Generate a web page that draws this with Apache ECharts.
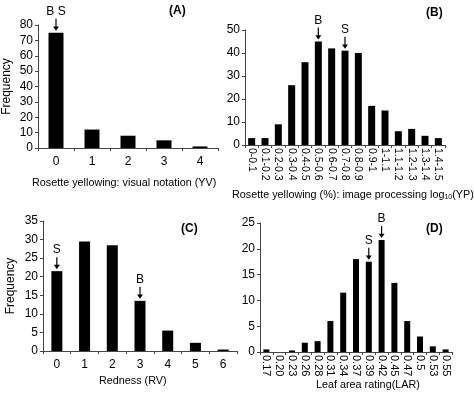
<!DOCTYPE html>
<html><head><meta charset="utf-8">
<script src="https://cdn.jsdelivr.net/npm/echarts@6/dist/echarts.min.js"></script>
<style>html,body{margin:0;padding:0;background:#fff}#c{width:474px;height:393px}</style>
</head><body><div id="c"></div>
<script>
// Panel A
const catsA = ['0','1','2','3','4'];
const valsA = [75, 12, 8, 5, 1];
const annA = [{cat:0, text:'B S'}];
// Panel B
const catsB = ['0-0.1','0.1-0.2','0.2-0.3','0.3-0.4','0.4-0.5','0.5-0.6','0.6-0.7','0.7-0.8','0.8-0.9','0.9-1','1-1.1','1.1-1.2','1.2-1.3','1.3-1.4','1.4-1.5'];
const valsB = [3, 3, 9, 26, 36, 45, 42, 41, 40, 17, 15, 6, 7, 4, 3];
const annB = [{cat:5, text:'B'}, {cat:7, text:'S'}];
// Panel C
const catsC = ['0','1','2','3','4','5','6'];
const valsC = [21.5, 29.5, 28.5, 13.5, 5.5, 2.2, 0.4];
const annC = [{cat:0, text:'S'}, {cat:3, text:'B'}];
// Panel D
const catsD = ['0.17','0.20','0.23','0.26','0.28','0.31','0.34','0.37','0.39','0.42','0.45','0.47','0.5','0.53','0.55'];
const valsD = [0.5, 0, 0.3, 1.8, 2.1, 6, 11.5, 18, 17.5, 21.7, 13.4, 6, 3, 1.1, 0.5];
const annD = [{cat:8, text:'S'}, {cat:9, text:'B'}];
// Y ticks
const yTicksA = {min:0, max:80, interval:10};
const yTicksB = {min:0, max:50, interval:10};
const yTicksC = {min:0, max:35, interval:5};
const yTicksD = {min:0, max:25, interval:5};
// Texts
const panelTitles = ['(A)', '(B)', '(C)', '(D)'];
const xNames = [
  'Rosette yellowing: visual notation (YV)',
  'Rosette yellowing (%): image processing log{sub|10}(YP)',
  'Redness (RV)',
  'Leaf area rating(LAR)'
];
const yName = 'Frequency';

const FONT = '"Liberation Sans", Arial, sans-serif';
const arrow = 'path://M2,0 L3,0 L3,9 L5,9 L2.5,14 L0,9 L2,9 Z';

function mk(ann, vals, cats){
  return {
    symbol: arrow, symbolSize: [6, 12], symbolOffset: [0, -8],
    itemStyle: {color: '#000'},
    label: {show: true, position: 'top', distance: 1, color: '#000', fontSize: 12, fontFamily: FONT,
      formatter: p => p.name},
    data: ann.map(a => ({name: a.text, coord: [cats[a.cat], vals[a.cat]]}))
  };
}
function xAx(gi, cats, opt){
  return Object.assign({
    type: 'category', gridIndex: gi, data: cats,
    axisLine: {lineStyle: {color: '#444', width: 1}},
    axisTick: {show: true, length: 3, lineStyle: {color: '#444'}},
    axisLabel: {color: '#000', fontSize: 12, fontFamily: FONT, margin: 8}
  }, opt || {});
}
function yAx(gi, t, name, gap){
  return {
    type: 'value', gridIndex: gi, min: t.min, max: t.max, interval: t.interval,
    axisLine: {show: true, lineStyle: {color: '#444', width: 1}},
    axisTick: {show: true, length: 3, lineStyle: {color: '#444'}},
    splitLine: {show: false},
    axisLabel: {color: '#000', fontSize: 12, fontFamily: FONT, margin: 5},
    name: name || '', nameLocation: 'middle', nameGap: gap || 24, nameRotate: 90,
    nameTextStyle: {color: '#000', fontSize: 12, fontFamily: FONT}
  };
}
function bar(gi, vals, w, ann, cats){
  return {type: 'bar', xAxisIndex: gi, yAxisIndex: gi, data: vals, barWidth: w,
    itemStyle: {color: '#000'}, silent: true, markPoint: mk(ann, vals, cats)};
}
const ttl = {fontSize: 12, fontWeight: 'bold', color: '#000', fontFamily: FONT};
const nm = {fontSize: 10.8, fontWeight: 'normal', color: '#000', fontFamily: FONT,
  rich: {sub: {fontSize: 7, fontFamily: FONT, color: '#000', verticalAlign: 'bottom', padding: [5, 0, 0, 0]}}};

const rotLab = {color: '#000', fontSize: 10.5, fontFamily: FONT, rotate: -90, margin: 3, interval: 0};

const chart = echarts.init(document.getElementById('c'), null, {renderer: 'canvas'});
chart.setOption({
  animation: false,
  backgroundColor: '#fff',
  textStyle: {fontFamily: FONT},
  title: [
    {text: panelTitles[0], left: 164, top: 0, textStyle: ttl},
    {text: panelTitles[1], left: 421, top: 2, textStyle: ttl},
    {text: panelTitles[2], left: 176, top: 218, textStyle: ttl},
    {text: panelTitles[3], left: 421, top: 218, textStyle: ttl},
    {text: xNames[0], left: 32, top: 178, padding: 0, textStyle: nm},
    {text: xNames[1], left: 232, top: 189, padding: 0, textStyle: nm},
    {text: xNames[2], left: 99, top: 376, padding: 0, textStyle: nm},
    {text: xNames[3], left: 316, top: 380, padding: 0, textStyle: nm}
  ],
  grid: [
    {left: 38, top: 25, width: 180, height: 123},
    {left: 245, top: 30, width: 200, height: 115},
    {left: 43, top: 221, width: 194, height: 130},
    {left: 260, top: 223, width: 192, height: 129}
  ],
  xAxis: [
    xAx(0, catsA),
    xAx(1, catsB, {axisLabel: rotLab}),
    xAx(2, catsC),
    xAx(3, catsD, {axisLabel: Object.assign({}, rotLab, {fontSize: 11})})
  ],
  yAxis: [
    yAx(0, yTicksA, yName, 25),
    yAx(1, yTicksB),
    yAx(2, yTicksC, yName, 26),
    yAx(3, yTicksD)
  ],
  series: [
    bar(0, valsA, 15, annA, catsA),
    bar(1, valsB, 7, annB, catsB),
    bar(2, valsC, 11, annC, catsC),
    bar(3, valsD, 6, annD, catsD)
  ]
});
</script></body></html>
